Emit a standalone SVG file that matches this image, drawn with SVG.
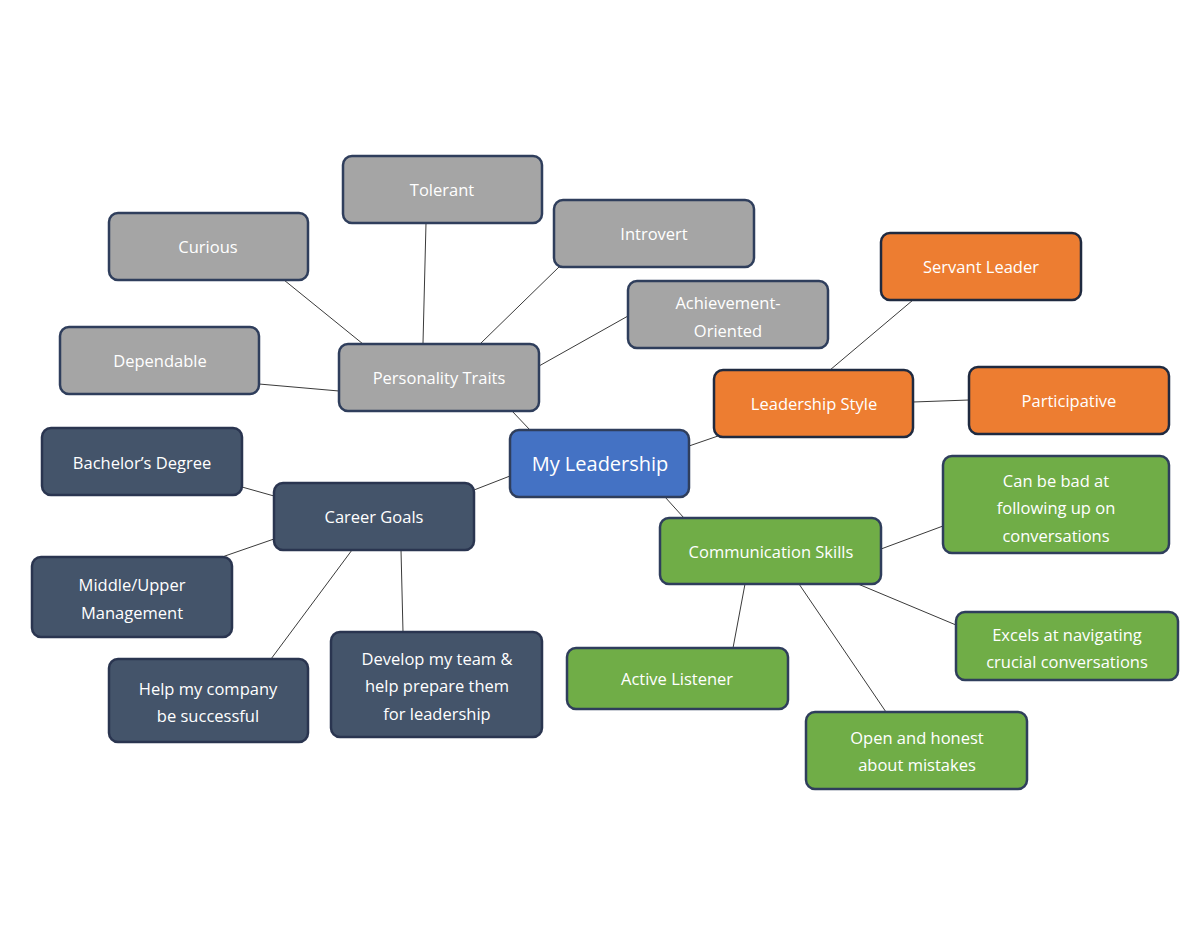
<svg xmlns="http://www.w3.org/2000/svg" width="1200" height="927" viewBox="0 0 1200 927">
<style>
rect{stroke:#2f3e5c;stroke-width:2.5}
.g rect{fill:#a5a5a5}.o rect{fill:#ed7d31;stroke:#1f2a40}.n rect{fill:#44546a;stroke:#2a3550}.gr rect{fill:#70ad47;stroke:#2f3e5c}.b rect{fill:#4472c4}
text{font-family:"Open Sans","Liberation Sans",sans-serif;font-size:16.5px;fill:#fff;text-anchor:middle}
#conn line{stroke:#3a3a3a;stroke-width:1}
</style>
<rect x="0" y="0" width="1200" height="927" fill="#fff" style="stroke:none"/>
<g id="conn">
<line x1="426" y1="223" x2="423" y2="343"/><line x1="284" y1="280" x2="363" y2="344"/><line x1="560" y1="266" x2="480" y2="344"/><line x1="628" y1="316" x2="539" y2="366"/><line x1="259" y1="384" x2="339" y2="391"/><line x1="512" y1="411" x2="530" y2="430"/><line x1="689" y1="446" x2="718" y2="436"/><line x1="830" y1="370" x2="913" y2="300"/><line x1="913" y1="402" x2="969" y2="400"/><line x1="665" y1="497" x2="684" y2="518"/><line x1="510" y1="476" x2="474" y2="490"/><line x1="242" y1="487" x2="274" y2="496"/><line x1="222" y1="557" x2="274" y2="539"/><line x1="271" y1="659" x2="352" y2="550"/><line x1="401" y1="550" x2="403" y2="632"/><line x1="881" y1="549" x2="943" y2="526"/><line x1="858" y1="584" x2="956" y2="625"/><line x1="745" y1="584" x2="733" y2="648"/><line x1="799" y1="584" x2="886" y2="712"/>
</g>
<g id="tolerant" class="g"><rect x="343" y="156" width="199" height="67" rx="9"/><text x="442" y="196">Tolerant</text></g>
<g id="curious" class="g"><rect x="109" y="213" width="199" height="67" rx="9"/><text x="208" y="253">Curious</text></g>
<g id="introvert" class="g"><rect x="554" y="200" width="200" height="67" rx="9"/><text x="654" y="240">Introvert</text></g>
<g id="achievement" class="g"><rect x="628" y="281" width="200" height="67" rx="9"/><text x="728" y="309">Achievement-</text><text x="728" y="337">Oriented</text></g>
<g id="dependable" class="g"><rect x="60" y="327" width="199" height="67" rx="9"/><text x="160" y="367">Dependable</text></g>
<g id="personality" class="g"><rect x="339" y="344" width="200" height="67" rx="9"/><text x="439" y="384">Personality Traits</text></g>
<g id="myleadership" class="b"><rect x="510" y="430" width="179" height="67" rx="9"/><text x="600" y="471" style="font-size:20px">My Leadership</text></g>
<g id="leadershipstyle" class="o"><rect x="714" y="370" width="199" height="67" rx="9"/><text x="814" y="410">Leadership Style</text></g>
<g id="servant" class="o"><rect x="881" y="233" width="200" height="67" rx="9"/><text x="981" y="273">Servant Leader</text></g>
<g id="participative" class="o"><rect x="969" y="367" width="200" height="67" rx="9"/><text x="1069" y="407">Participative</text></g>
<g id="bachelor" class="n"><rect x="42" y="428" width="200" height="67" rx="9"/><text x="142" y="469">Bachelor’s Degree</text></g>
<g id="career" class="n"><rect x="274" y="483" width="200" height="67" rx="9"/><text x="374" y="523">Career Goals</text></g>
<g id="middle" class="n"><rect x="32" y="557" width="200" height="80" rx="9"/><text x="132" y="591">Middle/Upper</text><text x="132" y="619">Management</text></g>
<g id="help" class="n"><rect x="109" y="659" width="199" height="83" rx="9"/><text x="208" y="695">Help my company</text><text x="208" y="722">be successful</text></g>
<g id="develop" class="n"><rect x="331" y="632" width="211" height="105" rx="9"/><text x="437" y="665">Develop my team &amp;</text><text x="437" y="692">help prepare them</text><text x="437" y="720">for leadership</text></g>
<g id="canbebad" class="gr"><rect x="943" y="456" width="226" height="97" rx="9"/><text x="1056" y="487">Can be bad at</text><text x="1056" y="514">following up on</text><text x="1056" y="542">conversations</text></g>
<g id="communication" class="gr"><rect x="660" y="518" width="221" height="66" rx="9"/><text x="771" y="558">Communication Skills</text></g>
<g id="excels" class="gr"><rect x="956" y="612" width="222" height="68" rx="9"/><text x="1067" y="641">Excels at navigating</text><text x="1067" y="668">crucial conversations</text></g>
<g id="active" class="gr"><rect x="567" y="648" width="221" height="61" rx="9"/><text x="677" y="685">Active Listener</text></g>
<g id="open" class="gr"><rect x="806" y="712" width="221" height="77" rx="9"/><text x="917" y="744">Open and honest</text><text x="917" y="771">about mistakes</text></g>
</svg>
